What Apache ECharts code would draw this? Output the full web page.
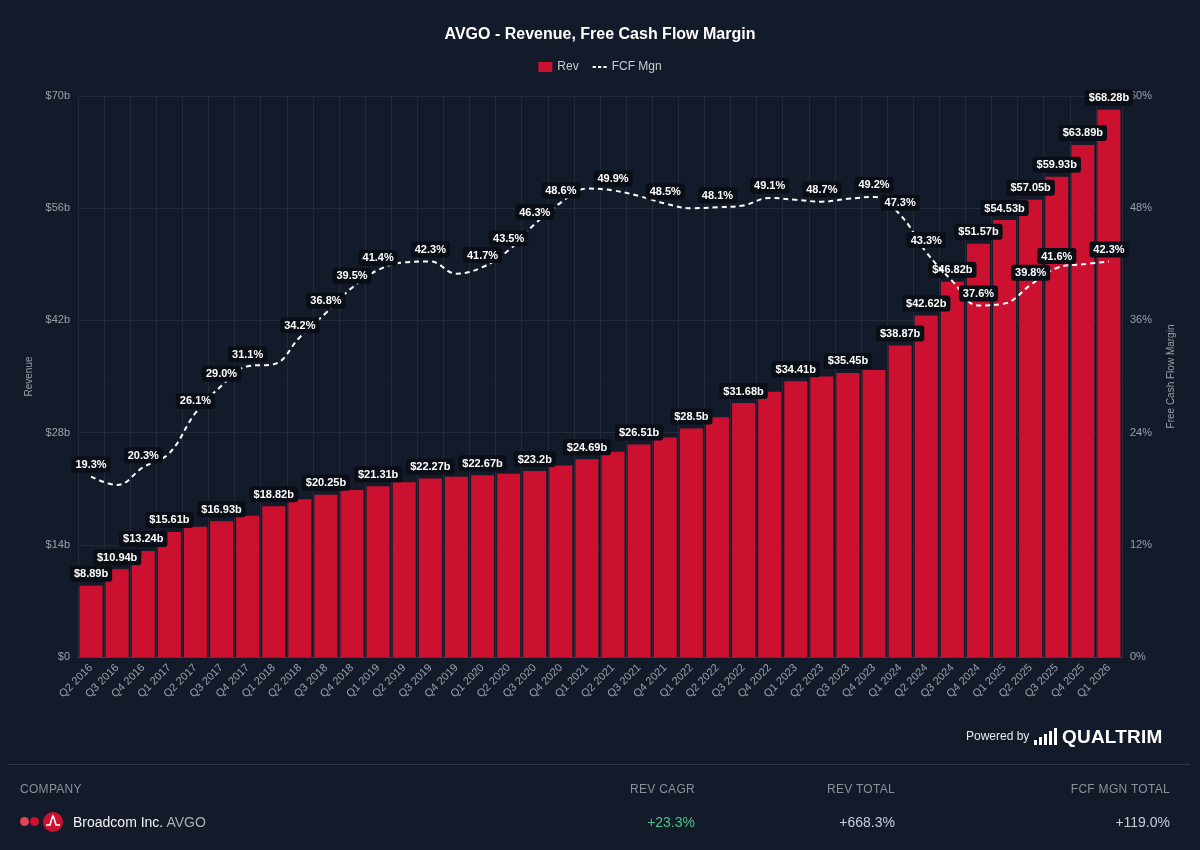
<!DOCTYPE html>
<html>
<head>
<meta charset="UTF-8">
<title>AVGO - Revenue, Free Cash Flow Margin</title>
<style>
  body { margin: 0; background: #131a29; font-family: "Liberation Sans", Arial, sans-serif; }
  #wrap { position: relative; width: 1200px; height: 850px; overflow: hidden; }
  #container { position: absolute; left: 0; top: 0; width: 1200px; height: 850px; }
  .powered { position: absolute; left: 966px; top: 729px; color: #e6e8ec; font-size: 12px; }
  .logo { position: absolute; left: 1034px; top: 727px; height: 18px; }
  .logo i { position: absolute; bottom: 0; width: 3px; background: #fff; }
  .logo b { position: absolute; left: 28px; top: -1px; color: #fff; font-size: 19px; font-weight: 900; letter-spacing: 0.2px; }
  .sep { position: absolute; left: 8px; top: 764px; width: 1182px; height: 1px; background: #2f3646; }
  .hd { position: absolute; top: 782px; color: #8b919c; font-size: 12px; letter-spacing: 0.3px; }
  .cell { position: absolute; top: 814px; font-size: 14px; }
  .r { text-align: right; }
</style>
</head>
<body>
<div id="wrap">
  <div id="container"></div>
  <div class="powered">Powered by</div>
  <div class="logo">
    <i style="left:0;height:5px"></i><i style="left:5px;height:8px"></i><i style="left:10px;height:11px"></i><i style="left:15px;height:14px"></i><i style="left:20px;height:17px"></i>
    <b>QUALTRIM</b>
  </div>
  <div class="sep"></div>
  <div class="hd" style="left:20px">COMPANY</div>
  <div class="hd r" style="left:595px;width:100px">REV CAGR</div>
  <div class="hd r" style="left:795px;width:100px">REV TOTAL</div>
  <div class="hd r" style="left:1020px;width:150px">FCF MGN TOTAL</div>
  <div class="cell" style="left:20px;top:817px;width:9px;height:9px;border-radius:50%;background:#e0455c"></div>
  <div class="cell" style="left:30px;top:817px;width:9px;height:9px;border-radius:50%;background:#cc1030"></div>
  <div class="cell" style="left:43px;top:812px;width:20px;height:20px;border-radius:50%;background:#cc1030">
    <svg width="20" height="20" viewBox="0 0 20 20" style="position:absolute;left:0;top:0"><path d="M3 13 H7 L9 6 L10 4 L11 6 L13 13 H17" stroke="#fff" stroke-width="1.6" fill="none"/></svg>
  </div>
  <div class="cell" style="left:73px;color:#f2f3f5">Broadcom Inc. <span style="color:#aab0ba">AVGO</span></div>
  <div class="cell r" style="left:595px;width:100px;color:#4cc38a">+23.3%</div>
  <div class="cell r" style="left:795px;width:100px;color:#c9cdd4">+668.3%</div>
  <div class="cell r" style="left:1020px;width:150px;color:#c9cdd4">+119.0%</div>
</div>
<script src="https://cdn.jsdelivr.net/npm/echarts@6/dist/echarts.min.js"></script>
<script>
    var quarters = ['Q2 2016','Q3 2016','Q4 2016',
        'Q1 2017','Q2 2017','Q3 2017','Q4 2017',
        'Q1 2018','Q2 2018','Q3 2018','Q4 2018',
        'Q1 2019','Q2 2019','Q3 2019','Q4 2019',
        'Q1 2020','Q2 2020','Q3 2020','Q4 2020',
        'Q1 2021','Q2 2021','Q3 2021','Q4 2021',
        'Q1 2022','Q2 2022','Q3 2022','Q4 2022',
        'Q1 2023','Q2 2023','Q3 2023','Q4 2023',
        'Q1 2024','Q2 2024','Q3 2024','Q4 2024',
        'Q1 2025','Q2 2025','Q3 2025','Q4 2025',
        'Q1 2026'];
    // revenue, $b (TTM)
    var revenue = [8.89, 10.94, 13.24,
        15.61, 16.26, 16.93, 17.63,
        18.82, 19.68, 20.25, 20.84,
        21.31, 21.8, 22.27, 22.5,
        22.67, 22.87, 23.2, 23.88,
        24.69, 25.6, 26.51, 27.4,
        28.5, 29.9, 31.68, 33.1,
        34.41, 35.0, 35.45, 35.8,
        38.87, 42.62, 46.82, 51.57,
        54.53, 57.05, 59.93, 63.89,
        68.28];
    // free cash flow margin, %
    var fcfMargin = [19.3, 18.4, 20.3,
        21.8, 26.1, 29.0, 31.1,
        31.3, 34.2, 36.8, 39.5,
        41.4, 42.2, 42.3, 41.0,
        41.7, 43.5, 46.3, 48.6,
        50.1, 49.9, 49.3, 48.5,
        48.0, 48.1, 48.3, 49.1,
        48.9, 48.7, 49.0, 49.2,
        47.3, 43.3, 40.2, 37.6,
        37.8, 39.8, 41.6, 42.0,
        42.3];
    // which points carry a value label (the rest are hidden for overlap)
    var revLabelIdx = [0,1,2,3,5,7,9,11,13,15,17,19,21,23,25,27,29,31,32,33,34,35,36,37,38,39];
    var fcfLabelIdx = [0,2,4,5,6,8,9,10,11,13,15,16,17,18,20,22,24,26,28,30,31,32,34,36,37,39];

    var labelBox = {
        color: '#ffffff',
        fontSize: 11,
        fontWeight: 'bold',
        fontFamily: 'Liberation Sans, Arial, sans-serif',
        backgroundColor: '#0a0e16',
        padding: [3, 4, 2, 4],
        borderRadius: 3
    };

    var revData = revenue.map(function (v, i) {
        return { value: v, label: { show: revLabelIdx.indexOf(i) >= 0 } };
    });
    var fcfData = fcfMargin.map(function (v, i) {
        return { value: v, label: { show: fcfLabelIdx.indexOf(i) >= 0 } };
    });

    var gridColor = '#232a3a';
    var axisText = '#9aa0aa';

    var myChart = echarts.init(document.getElementById('container'));
    var option = {
        backgroundColor: '#131a29',
        textStyle: { fontFamily: 'Liberation Sans, Arial, sans-serif' },
        animation: false,
        title: {
            text: 'AVGO - Revenue, Free Cash Flow Margin',
            left: 'center',
            top: 22,
            textStyle: { color: '#ffffff', fontSize: 16, fontWeight: 'bold' }
        },
        legend: {
            top: 56,
            left: 'center',
            itemWidth: 14,
            itemHeight: 10,
            itemGap: 14,
            textStyle: { color: '#c8ccd3', fontSize: 12 },
            data: [
                { name: 'Rev', icon: 'rect', itemStyle: { color: '#cc1030' } },
                { name: 'FCF Mgn', icon: 'path://M0 4h3v2H0zM5 4h3v2H5zM10 4h3v2h-3z', itemStyle: { color: '#ffffff' } }
            ]
        },
        grid: { left: 78, right: 78, top: 96, bottom: 193 },
        xAxis: {
            type: 'category',
            data: quarters,
            axisTick: { show: false },
            axisLine: { lineStyle: { color: '#394052' } },
            axisLabel: { interval: 0, rotate: 45, color: axisText, fontSize: 11, margin: 9 },
            splitLine: { show: true, interval: 0, lineStyle: { color: gridColor } }
        },
        yAxis: [
            {
                type: 'value',
                min: 0, max: 70, interval: 14,
                name: 'Revenue',
                nameLocation: 'middle',
                nameGap: 44,
                nameTextStyle: { color: axisText, fontSize: 10 },
                axisLabel: { color: axisText, fontSize: 11, formatter: function (v) { return '$' + v + (v === 0 ? '' : 'b'); } },
                splitLine: { lineStyle: { color: gridColor } }
            },
            {
                type: 'value',
                min: 0, max: 60, interval: 12,
                name: 'Free Cash Flow Margin',
                nameLocation: 'middle',
                nameGap: 44,
                nameTextStyle: { color: axisText, fontSize: 10 },
                axisLabel: { color: axisText, fontSize: 11, formatter: '{value}%' },
                splitLine: { show: false }
            }
        ],
        series: [
            {
                name: 'Rev',
                type: 'bar',
                data: revData,
                barCategoryGap: '12%',
                itemStyle: { color: '#cc1030' },
                label: Object.assign({ position: 'top', distance: 4, formatter: function (p) { return '$' + p.value + 'b'; } }, labelBox)
            },
            {
                name: 'FCF Mgn',
                type: 'line',
                yAxisIndex: 1,
                data: fcfData,
                smooth: 0.4,
                symbol: 'circle',
                symbolSize: 0.1,
                showSymbol: true,
                z: 5,
                itemStyle: { color: '#ffffff' },
                lineStyle: { color: '#ffffff', width: 2, type: [5, 4] },
                label: Object.assign({ position: 'top', distance: 4, formatter: function (p) { return p.value.toFixed(1) + '%'; } }, labelBox)
            }
        ]
    };
    myChart.setOption(option);
</script>
</body>
</html>
